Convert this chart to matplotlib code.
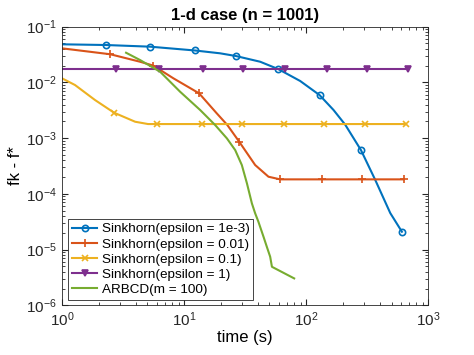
import numpy as np
import matplotlib
matplotlib.use("Agg")
import matplotlib.pyplot as plt
from matplotlib.legend_handler import HandlerLine2D

plt.rcParams['font.family'] = ['Liberation Sans', 'DejaVu Sans']
plt.rcParams['mathtext.fontset'] = 'custom'
plt.rcParams['mathtext.rm'] = 'Liberation Sans'
plt.rcParams['mathtext.it'] = 'Liberation Sans:italic'
plt.rcParams['mathtext.bf'] = 'Liberation Sans:bold'

# values (log-log)
t_eps1e3 = [1.0, 2.295, 5.265, 12.3, 19.7, 26.5, 42.0, 59.3, 89.3, 128.5, 167.4, 208.8, 280.7, 368, 488, 608]
f_eps1e3 = [0.0483, 0.0469, 0.0438, 0.0374, 0.0333, 0.0298, 0.0235, 0.01726, 0.0106, 0.00594, 0.00320, 0.00174,
            6.11e-4, 1.77e-4, 4.52e-5, 2.09e-5]
mk_eps1e3 = [1, 2, 3, 5, 7, 9, 12, 15]

t_eps001 = [1.0, 2.49, 4.36, 5.60, 8.17, 13.27, 18.5, 22.6, 28.2, 38.2, 49.1, 61.2, 134.5, 289, 628]
f_eps001 = [0.0409, 0.0320, 0.0235, 0.0200, 0.01185, 0.00637, 0.00279, 0.00172, 8.69e-4, 3.29e-4, 2.03e-4,
            1.82e-4, 1.82e-4, 1.82e-4, 1.82e-4]
mk_eps001 = [1, 3, 5, 8, 11, 12, 13, 14]

t_eps01 = [1.0, 1.278, 1.864, 2.67, 3.97, 5.07, 5.97, 13.96, 29.7, 65.2, 140.5, 304.5, 656]
f_eps01 = [0.01185, 0.00898, 0.00483, 0.00286, 0.00197, 0.00179, 0.00179, 0.00179, 0.00179, 0.00179,
           0.00179, 0.00179, 0.00179]
mk_eps01 = [3, 6, 7, 8, 9, 10, 11, 12]

t_eps1 = [1.0, 2.755, 6.20, 14.18, 30.3, 67.3, 147.8, 314.5, 682]
f_eps1 = [0.01718] * 9
mk_eps1 = [1, 2, 3, 4, 5, 6, 7, 8]

t_arbcd = [3.347, 4.36, 6.36, 9.27, 13.53, 17.95, 22.4, 26.2, 29.7, 32.7, 35.9, 38.2, 40.6, 44.7, 47.6, 50.7,
           52.4, 79.7]
f_arbcd = [0.0341, 0.0252, 0.01556, 0.00681, 0.00320, 0.00172, 9.92e-4, 6.11e-4, 3.29e-4, 1.545e-4, 6.75e-5,
           4.47e-5, 3.16e-5, 1.70e-5, 1.12e-5, 7.43e-6, 4.91e-6, 3.04e-6]

fig = plt.figure(figsize=(4.74, 3.55), dpi=100)
ax = fig.add_axes([0.1308, 0.140, 0.7728, 0.7848])

ax.loglog(t_eps1e3, f_eps1e3, color='#0072BD', lw=1.5, marker='o', ms=4.5, mfc='none', mew=1.2,
          markevery=mk_eps1e3, label='Sinkhorn(epsilon = 1e-3)')
ax.loglog(t_eps001, f_eps001, color='#D95319', lw=1.5, marker='+', ms=6, mew=1.2,
          markevery=mk_eps001, label='Sinkhorn(epsilon = 0.01)')
ax.loglog(t_eps01, f_eps01, color='#EDB120', lw=1.5, marker='x', ms=4.5, mew=1.2,
          markevery=mk_eps01, label='Sinkhorn(epsilon = 0.1)')
ax.loglog(t_eps1, f_eps1, color='#7E2F8E', lw=1.5, marker='v', ms=5, mew=1.2,
          markevery=mk_eps1, label='Sinkhorn(epsilon = 1)')
ax.loglog(t_arbcd, f_arbcd, color='#77AC30', lw=1.5, label='ARBCD(m = 100)')

ax.set_xlim(1, 1000)
ax.set_ylim(1e-6, 1e-1)
ax.tick_params(which='both', direction='in', top=True, right=True, colors='#262626', labelsize=11)
ax.tick_params(which='major', length=4)
ax.tick_params(which='minor', length=2)
for s in ax.spines.values():
    s.set_color('#262626')
    s.set_linewidth(0.6)

ax.set_title('1-d case (n = 1001)', fontsize=12, fontweight='bold', pad=5)
ax.set_xlabel('time (s)', fontsize=12, labelpad=1)
ax.set_ylabel('fk - f*', fontsize=12, labelpad=2)


def legend_update(handle, orig):
    # copy the style but put one marker in the middle of the legend line
    handle.update_from(orig)
    handle.set_markevery([1])


leg = ax.legend(loc='lower left', bbox_to_anchor=(0.016, 0.019), borderaxespad=0, fontsize=9.7,
                handlelength=1.9, handletextpad=0.3, labelspacing=0.2, borderpad=0.3, numpoints=1,
                fancybox=False, framealpha=1, edgecolor='#262626',
                handler_map={l: HandlerLine2D(numpoints=1, update_func=legend_update) for l in ax.get_lines()})
leg.get_frame().set_linewidth(0.6)

fig.savefig('out.png', dpi=100)
